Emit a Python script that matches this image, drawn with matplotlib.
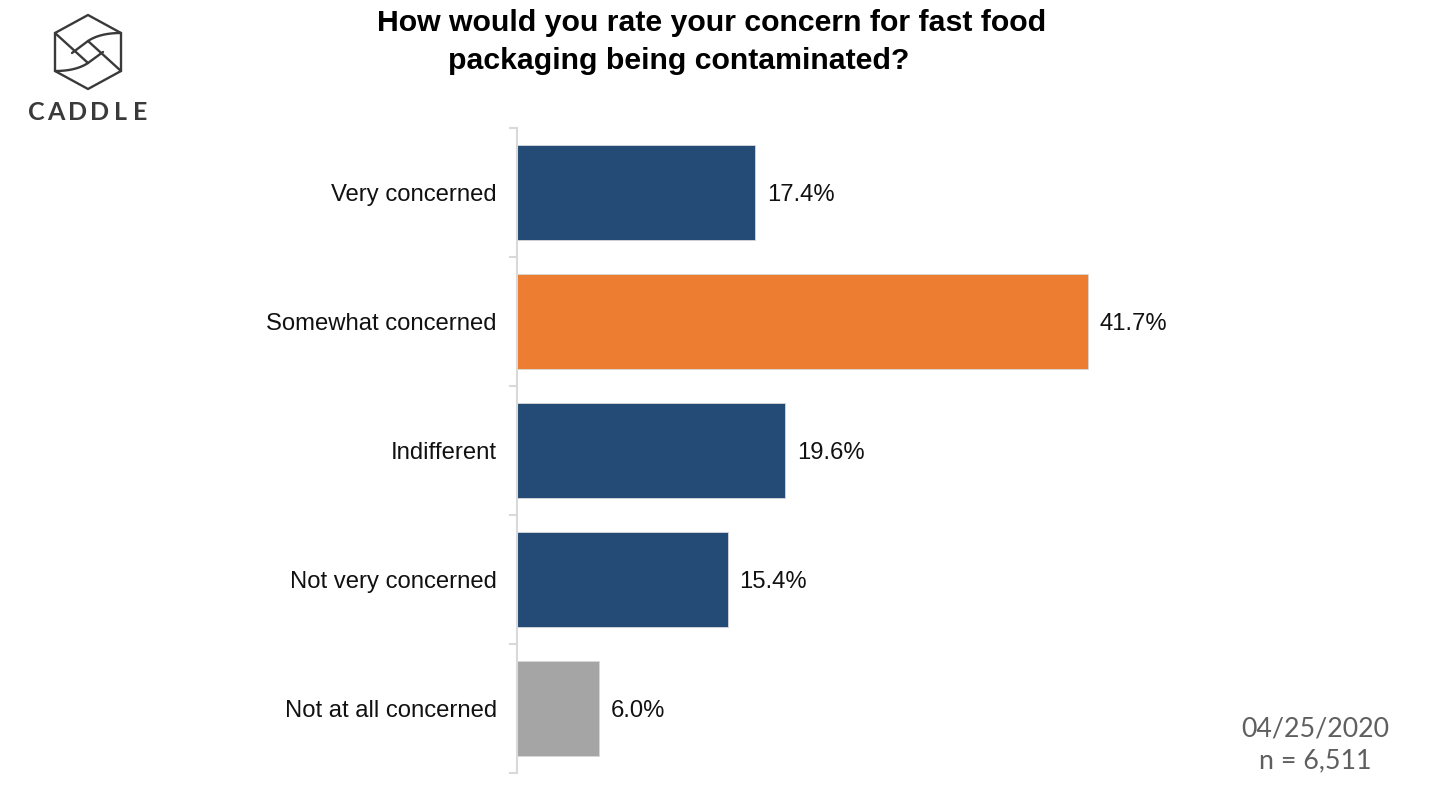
import matplotlib.pyplot as plt
from matplotlib.patches import Polygon
import numpy as np

plt.rcParams['font.family'] = ['Liberation Sans', 'DejaVu Sans']

categories = ["Very concerned", "Somewhat concerned", "Indifferent",
              "Not very concerned", "Not at all concerned"]
values = [17.4, 41.7, 19.6, 15.4, 6.0]
colors = ["#234B76", "#ED7D31", "#234B76", "#234B76", "#A5A5A5"]

title_lines = ["How would you rate your concern for fast food",
               "packaging being contaminated?"]
date_text = "04/25/2020"
n_text = "n = 6,511"

fig = plt.figure(figsize=(14.3, 8.01), dpi=100)
ax = fig.add_axes([517/1430, 28/801, 821/1430, 645/801])

y = np.arange(len(categories))
ax.barh(y, values, height=0.74, color=colors, edgecolor="#d8d8d8", linewidth=0.6)
for yi, v in zip(y, values):
    ax.text(v + 0.85, yi, f"{v:.1f}%", va="center_baseline", ha="left", fontsize=17.2, color="#111111")

ax.set_ylim(len(categories) - 0.5, -0.5)
ax.set_xlim(0, 60)
ax.set_yticks(y)
ax.set_yticklabels(categories, fontsize=17.2, color="#111111", va="center_baseline")
ax.tick_params(axis="y", which="major", length=0, pad=14.4)
ax.set_yticks(np.arange(-0.5, len(categories)), minor=True)
ax.tick_params(axis="y", which="minor", length=6, width=1.5, color="#d9d9d9", direction="out")
ax.set_xticks([])
for s in ["top", "right", "bottom"]:
    ax.spines[s].set_visible(False)
ax.spines["left"].set_color("#d9d9d9")
ax.spines["left"].set_linewidth(1.5)

# title
fig.text(712/1430, 1 - 23/801, title_lines[0], ha="center", va="center",
         fontsize=21.8, fontweight="bold", color="black")
fig.text(679/1430, 1 - 61/801, title_lines[1], ha="center", va="center",
         fontsize=21.8, fontweight="bold", color="black")

# date / sample size
fig.text(1315/1430, 1 - 729/801, date_text, ha="center", va="center",
         fontsize=19.3, color="#5f5f5f", family=["Lato", "DejaVu Sans"])
fig.text(1315/1430, 1 - 761/801, n_text, ha="center", va="center",
         fontsize=19.3, color="#5f5f5f", family=["Lato", "DejaVu Sans"])

# logo
lax = fig.add_axes([0, 0, 1, 1], zorder=-1)
lax.set_xlim(0, 1430)
lax.set_ylim(801, 0)
lax.axis("off")
lc = "#3a3a3a"
lw = 1.7
hexagon = [(88, 15), (121, 33), (121, 71), (88, 89), (55, 71), (55, 33)]
lax.add_patch(Polygon(hexagon, closed=True, fill=False, edgecolor=lc, linewidth=lw, joinstyle="round"))


def bez(p0, p1, p2):
    t = np.linspace(0, 1, 40)[:, None]
    pts = (1 - t) ** 2 * np.array(p0) + 2 * (1 - t) * t * np.array(p1) + t ** 2 * np.array(p2)
    return pts[:, 0], pts[:, 1]


lax.plot([55, 88], [33, 63], color=lc, lw=lw, solid_capstyle="round")
lax.plot([88, 121], [41, 71], color=lc, lw=lw, solid_capstyle="round")
bx, by = bez((121, 33), (100, 33), (88, 41))
lax.plot(list(bx) + [72], list(by) + [53], color=lc, lw=lw, solid_capstyle="round")
bx, by = bez((55, 71), (76, 71), (88, 63))
lax.plot(list(bx) + [103], list(by) + [52], color=lc, lw=lw, solid_capstyle="round")

for lx, ch in zip([36, 56, 78, 100, 120, 140], "CADDLE"):
    lax.text(lx, 112, ch, ha="center", va="center", fontsize=18, fontweight="bold",
             color=lc, family=["Lato", "DejaVu Sans"])

fig.savefig("out.png", dpi=100, facecolor="white")
